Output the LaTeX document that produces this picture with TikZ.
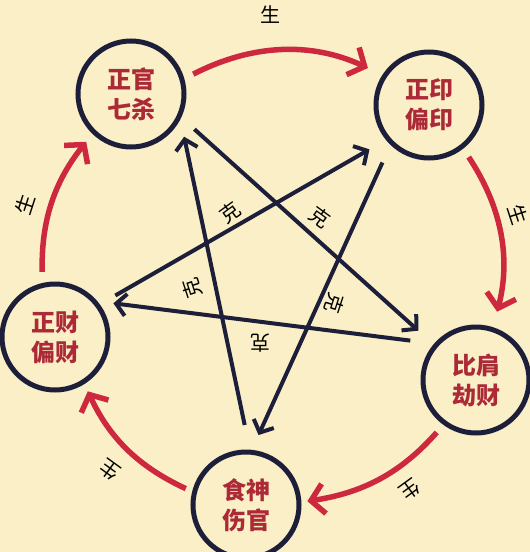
\documentclass[tikz,border=0pt]{standalone}
\usepackage{fontspec}
\newfontfamily\cjk{Noto Sans CJK SC}
\usetikzlibrary{arrows.meta}
\definecolor{paper}{RGB}{250,239,198}
\definecolor{ink}{RGB}{28,30,58}
\definecolor{shengred}{RGB}{205,40,62}
\definecolor{textred}{RGB}{172,42,55}

\begin{document}
\begin{tikzpicture}[x=1pt,y=-1pt,
    gong/.style={circle, draw=ink, line width=5pt, minimum size=106pt, inner sep=0pt,
      align=center, text=textred, font=\cjk\bfseries\fontsize{24}{30}\selectfont},
    sheng/.style={draw=shengred, line width=5.5pt, -{Straight Barb[length=13pt,width=30pt]}},
    ke/.style={draw=ink, line width=4pt, -{Straight Barb[length=10pt,width=22pt]}},
    lbl/.style={font=\cjk\fontsize{20}{20}\selectfont, text=black}]
    \useasboundingbox (0,0) rectangle (530,552);
    \clip (0,0) rectangle (530,552);
    \fill[paper] (0,0) rectangle (530,552);

    % the five circles
    \node[gong] (guan) at (131,94) {正官\\七杀};
    \node[gong] (yin) at (429,105) {正印\\偏印};
    \node[gong] (bi) at (476,380) {比肩\\劫财};
    \node[gong] (shi) at (246,505) {食神\\伤官};
    \node[gong] (cai) at (55,337) {正财\\偏财};

    % sheng: outer ring
    \draw[sheng, shorten <=10pt, shorten >=16pt] (guan.16) to[bend left=26] (yin.147);
    \draw[sheng, shorten <=10pt, shorten >=16pt] (yin.-52) to[bend left=24] (bi.72);
    \draw[sheng, shorten <=10pt, shorten >=6pt] (bi.-126) to[bend left=20] (shi.3);
    \draw[sheng, shorten <=7pt, shorten >=8pt] (shi.166) to[bend left=20] (cai.-58);
    \draw[sheng, shorten <=11pt, shorten >=10pt] (cai.103) to[bend left=20] (guan.-134);

    \node[lbl] (s1) at (270,15) {生};
    \node[lbl, rotate=-72] (s2) at (518,215) {生};
    \node[lbl, rotate=-144] (s3) at (410,490) {生};
    \node[lbl, rotate=144] (s4) at (110,470) {生};
    \node[lbl, rotate=72] (s5) at (25,205) {生};

    % ke: the star
    \draw[ke, shorten <=17.6pt, shorten >=20.4pt] (guan.-25.9) -- (bi.140.4);
    \draw[ke, shorten <=17.8pt, shorten >=18.9pt] (cai.36.7) -- (yin.219.9);
    \draw[ke, shorten <=19.3pt, shorten >=16.2pt] (yin.-134.8) -- (shi.84);
    \draw[ke, shorten <=25.2pt, shorten >=17.9pt] (shi.86.2) -- (guan.-27.4);
    \draw[ke, shorten <=24pt, shorten >=16pt] (bi.139.6) -- (cai.40.5);

    \node[lbl, rotate=36] (k1) at (230,212) {克};
    \node[lbl, rotate=-36] (k2) at (320,217) {克};
    \node[lbl, rotate=108] (k3) at (192,288) {克};
    \node[lbl, rotate=-108] (k4) at (335,303) {克};
    \node[lbl, rotate=180] (k5) at (260,343) {克};
\end{tikzpicture}
\end{document}
